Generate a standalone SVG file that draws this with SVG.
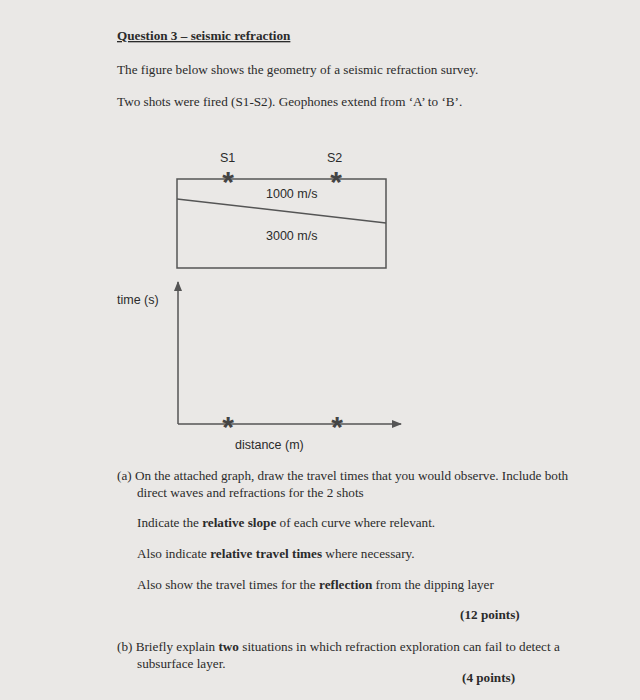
<svg xmlns="http://www.w3.org/2000/svg" width="640" height="700" viewBox="0 0 640 700">
<style>
.s{font-family:"Liberation Serif",serif;font-size:13.2px;fill:#2b2b2b}
.a{font-family:"Liberation Sans",sans-serif;font-size:12.5px;fill:#2b2b2b}
.st{font-family:"Liberation Sans",sans-serif;font-size:30px;font-weight:bold;fill:#444;text-anchor:middle}
.ln{stroke:#555;stroke-width:1.5;fill:none}
</style>
<defs><marker id="ar" markerWidth="10" markerHeight="8" refX="9" refY="4" orient="auto" markerUnits="userSpaceOnUse"><path d="M0,0 L10,4 L0,8 Z" fill="#555"/></marker></defs>
<rect width="640" height="700" fill="#eae8e6"/>
<text class="s" x="117" y="40" font-weight="bold" font-size="15.5" text-decoration="underline">Question 3 – seismic refraction</text>
<text class="s" x="117" y="74" font-size="12.8">The figure below shows the geometry of a seismic refraction survey.</text>
<text class="s" x="117" y="106" font-size="12.8">Two shots were fired (S1-S2). Geophones extend from ‘A’ to ‘B’.</text>
<g id="model">
<rect x="177" y="179" width="209" height="89" class="ln"/>
<line x1="177" y1="199" x2="386" y2="223" class="ln"/>
<text class="a" x="266" y="198">1000 m/s</text>
<text class="a" x="266" y="240">3000 m/s</text>
</g>
<g id="s1"><text class="a" x="220" y="162" font-size="13.5">S1</text><text class="st" x="228" y="192">*</text></g>
<g id="s2"><text class="a" x="327" y="162" font-size="13.5">S2</text><text class="st" x="336" y="192">*</text></g>
<g id="connectors">
<line x1="178" y1="424" x2="178" y2="282" class="ln" marker-end="url(#ar)"/>
<line x1="178" y1="424" x2="401" y2="424" class="ln" marker-end="url(#ar)"/>
</g>
<g id="axisstars"><text class="st" x="228" y="437">*</text><text class="st" x="337" y="437">*</text></g>
<text class="a" x="117" y="304">time (s)</text>
<text class="a" x="235" y="449">distance (m)</text>
<text class="s" x="117" y="480">(a) On the attached graph, draw the travel times that you would observe. Include both</text>
<text class="s" x="137" y="497">direct waves and refractions for the 2 shots</text>
<text class="s" x="137" y="527">Indicate the <tspan font-weight="bold">relative slope</tspan> of each curve where relevant.</text>
<text class="s" x="137" y="558">Also indicate <tspan font-weight="bold">relative travel times</tspan> where necessary.</text>
<text class="s" x="137" y="589">Also show the travel times for the <tspan font-weight="bold">reflection</tspan> from the dipping layer</text>
<text class="s" x="460" y="619" font-weight="bold">(12 points)</text>
<text class="s" x="117" y="651">(b) Briefly explain <tspan font-weight="bold">two</tspan> situations in which refraction exploration can fail to detect a</text>
<text class="s" x="137" y="668">subsurface layer.</text>
<text class="s" x="462" y="682" font-weight="bold">(4 points)</text>
</svg>
